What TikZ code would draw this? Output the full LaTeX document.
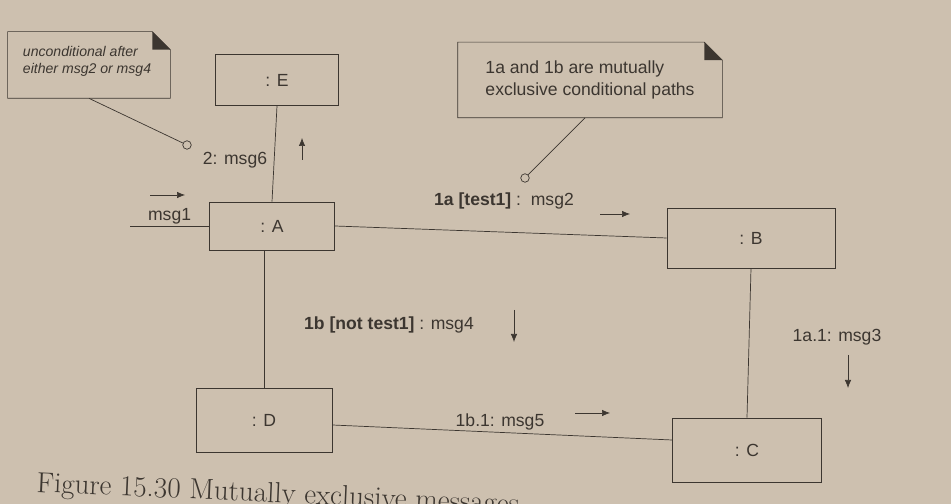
\documentclass[tikz,border=0pt]{standalone}
\usepackage{fontspec}
\usepackage{xcolor}
\usetikzlibrary{arrows.meta}
\newfontfamily\diagfont{Liberation Sans}
\definecolor{paper}{RGB}{205,192,175}
\definecolor{ink}{RGB}{60,54,48}

\begin{document}
\begin{tikzpicture}[
  obj/.style={draw=ink, thin, inner sep=0pt, text=ink, font=\diagfont\fontsize{10}{12}\selectfont},
  note/.style={inner sep=0pt, align=left, text=ink},
  lbl/.style={text=ink, inner sep=1pt, font=\diagfont\fontsize{10}{12}\selectfont},
  dot/.style={circle, draw=ink, thin, inner sep=0pt, minimum size=0.17cm},
  msg/.style={ink, thin, -{Latex[length=1.6mm,width=1.3mm]}}
]
\fill[paper] (0,0) rectangle (19.02,10.08);
\useasboundingbox (0,0) rectangle (19.02,10.08);

% objects
\node[obj, minimum width=2.46cm, minimum height=1.02cm] (E) at (5.54,8.48) {: E};
\node[obj, minimum width=2.5cm, minimum height=0.96cm] (A) at (5.44,5.56) {: A};
\node[obj, minimum width=3.36cm, minimum height=1.2cm] (B) at (15.02,5.32) {: B};
\node[obj, minimum width=2.98cm, minimum height=1.28cm] (C) at (14.94,1.08) {: C};
\node[obj, minimum width=2.72cm, minimum height=1.28cm] (D) at (5.28,1.68) {: D};

% notes
\node[note, minimum width=3.24cm, minimum height=1.32cm, font=\diagfont\itshape\fontsize{8}{10}\selectfont]
  (noteU) at (1.78,8.78) {};
\node[note, anchor=north west, font=\diagfont\itshape\fontsize{8}{10}\selectfont]
  (txtU) at ([xshift=0.3cm,yshift=-0.28cm]noteU.north west) {unconditional after\\either msg2 or msg4};
\node[note, minimum width=5.28cm, minimum height=1.5cm, font=\diagfont\fontsize{10}{12.5}\selectfont]
  (noteX) at (11.8,8.48) {1a and 1b are mutually\\exclusive conditional paths};
\foreach \n in {noteU,noteX} {
  \draw[ink, thin] (\n.south west) -- (\n.north west) -- ([xshift=-0.36cm]\n.north east)
    -- ([yshift=-0.36cm]\n.north east) -- (\n.south east) -- cycle;
  \fill[ink] ([xshift=-0.36cm]\n.north east) -- ([xshift=-0.36cm,yshift=-0.36cm]\n.north east)
    -- ([yshift=-0.36cm]\n.north east) -- cycle;
}
\node[dot] (dotU) at (3.74,7.18) {};
\node[dot] (dotX) at (10.5,6.52) {};
\draw[ink, thin] (noteU.south) -- (dotU);
\draw[ink, thin] ([xshift=-0.1cm]noteX.south) -- (dotX);

% links
\coordinate (start) at (2.6,5.56);
\draw[ink, thin] (start) -- node[lbl, above] (m1) {msg1} (A.west);
\draw[ink, thin] (E.south) -- (A.north);
\draw[ink, thin] (A.east) -- (B.west);
\draw[ink, thin] (A.south -| D.north) -- (D.north);
\draw[ink, thin] (B.south) -- (C.north);
\draw[ink, thin] ([yshift=-0.1cm]D.east) -- ([yshift=0.2cm]C.west);

% messages
\node[lbl] (m6) at (4.7,6.88) {2: msg6};
\node[lbl] (m2) at (10.08,6.06) {\textbf{1a [test1]} :\ \ msg2};
\node[lbl] (m4) at (7.78,3.58) {\textbf{1b [not test1]} : msg4};
\node[lbl] (m3) at (16.74,3.34) {1a.1: msg3};
\node[lbl] (m5) at (10.0,1.64) {1b.1: msg5};
\foreach \x/\y/\dx/\dy in {3.0/6.18/0.7/0, 6.04/6.88/0/0.44, 12.0/5.8/0.6/0,
    10.28/3.88/0/-0.64, 16.96/2.98/0/-0.66, 11.5/1.82/0.7/0}
  \draw[msg] (\x,\y) -- ++(\dx,\dy);

% caption
\node[rotate=-2.5, anchor=base west, inner sep=0pt, text=ink, font=\fontsize{16.5}{18}\selectfont]
  (cap) at (0.72,0.24) {Figure 15.30 Mutually exclusive messages};
\end{tikzpicture}
\end{document}
